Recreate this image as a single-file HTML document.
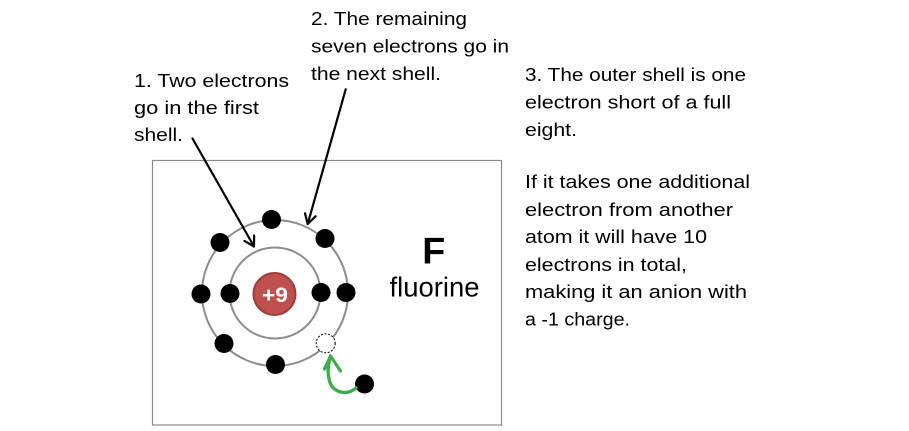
<!DOCTYPE html>
<html>
<head>
<meta charset="utf-8">
<style>
  html, body { margin: 0; padding: 0; background: #ffffff; }
  svg { display: block; }
  .t { font-family: "Liberation Sans", "DejaVu Sans", sans-serif; font-size: 18px; fill: #000; }
</style>
</head>
<body>
<svg width="909" height="431" viewBox="0 0 909 431" xmlns="http://www.w3.org/2000/svg">
  <rect x="0" y="0" width="909" height="431" fill="#ffffff"/>

  <!-- frame -->
  <rect x="152.5" y="160.5" width="349" height="264.5" fill="none" stroke="#8a8a8a" stroke-width="1.2"/>

  <!-- shells -->
  <circle cx="275" cy="293" r="73" fill="none" stroke="#8c8c8c" stroke-width="2"/>
  <circle cx="275" cy="293" r="45.5" fill="none" stroke="#8c8c8c" stroke-width="2"/>

  <!-- nucleus -->
  <circle cx="274.5" cy="294" r="21" fill="#c0504d" stroke="#a03c39" stroke-width="2"/>
  <text x="275" y="302" text-anchor="middle" font-family="Liberation Sans, sans-serif" font-weight="bold" font-size="21" fill="#ffffff" textLength="26" lengthAdjust="spacingAndGlyphs">+9</text>

  <!-- electrons -->
  <g fill="#000">
    <circle cx="271.5" cy="219.5" r="9.5"/>
    <circle cx="325" cy="238.5" r="9.5"/>
    <circle cx="220" cy="242.5" r="9.5"/>
    <circle cx="201" cy="294" r="9.5"/>
    <circle cx="230" cy="293.5" r="9.5"/>
    <circle cx="321" cy="292.5" r="9.5"/>
    <circle cx="346" cy="292.5" r="9.5"/>
    <circle cx="224" cy="343.5" r="9.5"/>
    <circle cx="275.5" cy="364.5" r="9.5"/>
    <circle cx="364.5" cy="384" r="9.5"/>
  </g>
  <!-- empty slot -->
  <circle cx="325.7" cy="343.3" r="9.5" fill="#ffffff" stroke="#000" stroke-width="1" stroke-dasharray="2,1.6"/>

  <!-- green arrow -->
  <path d="M356,388 C347,396 333,393 329.5,381 C327,372 328,364 330.5,356" fill="none" stroke="#3aae48" stroke-width="3.4" stroke-linecap="round"/>
  <path d="M324.5,369 L330.5,356 L340.5,371" fill="none" stroke="#3aae48" stroke-width="3.2" stroke-linecap="round" stroke-linejoin="round"/>

  <!-- black arrows -->
  <g fill="none" stroke="#000" stroke-width="2.2" stroke-linecap="round" stroke-linejoin="round">
    <line x1="192.5" y1="138.5" x2="254" y2="246.5"/>
    <path d="M254.1,235.5 L254,246.5 L244.5,240.9"/>
    <line x1="345.7" y1="89.3" x2="307.7" y2="224"/>
    <path d="M315.6,216.3 L307.7,224 L305,213.3"/>
  </g>

  <!-- element symbol -->
  <text x="433.8" y="263.3" text-anchor="middle" font-family="Liberation Sans, sans-serif" font-weight="bold" font-size="37" fill="#000" textLength="23" lengthAdjust="spacingAndGlyphs">F</text>
  <text x="389.5" y="296.7" font-family="Liberation Sans, sans-serif" font-size="28" fill="#000" textLength="90" lengthAdjust="spacingAndGlyphs">fluorine</text>

  <!-- label 1 -->
  <text class="t" x="134" y="87" textLength="155" lengthAdjust="spacingAndGlyphs">1. Two electrons</text>
  <text class="t" x="134" y="114" textLength="125" lengthAdjust="spacingAndGlyphs">go in the first</text>
  <text class="t" x="134" y="141" textLength="49" lengthAdjust="spacingAndGlyphs">shell.</text>

  <!-- label 2 -->
  <text class="t" x="311" y="25" textLength="156" lengthAdjust="spacingAndGlyphs">2. The remaining</text>
  <text class="t" x="311" y="52.5" textLength="198" lengthAdjust="spacingAndGlyphs">seven electrons go in</text>
  <text class="t" x="311" y="80" textLength="130" lengthAdjust="spacingAndGlyphs">the next shell.</text>

  <!-- label 3 -->
  <text class="t" x="525" y="81" textLength="221" lengthAdjust="spacingAndGlyphs">3. The outer shell is one</text>
  <text class="t" x="525" y="108.5" textLength="206" lengthAdjust="spacingAndGlyphs">electron short of a full</text>
  <text class="t" x="525" y="136" textLength="52" lengthAdjust="spacingAndGlyphs">eight.</text>

  <text class="t" x="525" y="188" textLength="225" lengthAdjust="spacingAndGlyphs">If it takes one additional</text>
  <text class="t" x="525" y="216" textLength="208" lengthAdjust="spacingAndGlyphs">electron from another</text>
  <text class="t" x="525" y="243" textLength="182" lengthAdjust="spacingAndGlyphs">atom it will have 10</text>
  <text class="t" x="525" y="271" textLength="162" lengthAdjust="spacingAndGlyphs">electrons in total,</text>
  <text class="t" x="525" y="298" textLength="222" lengthAdjust="spacingAndGlyphs">making it an anion with</text>
  <text class="t" x="525" y="325.5" textLength="105" lengthAdjust="spacingAndGlyphs">a -1 charge.</text>
</svg>
</body>
</html>
